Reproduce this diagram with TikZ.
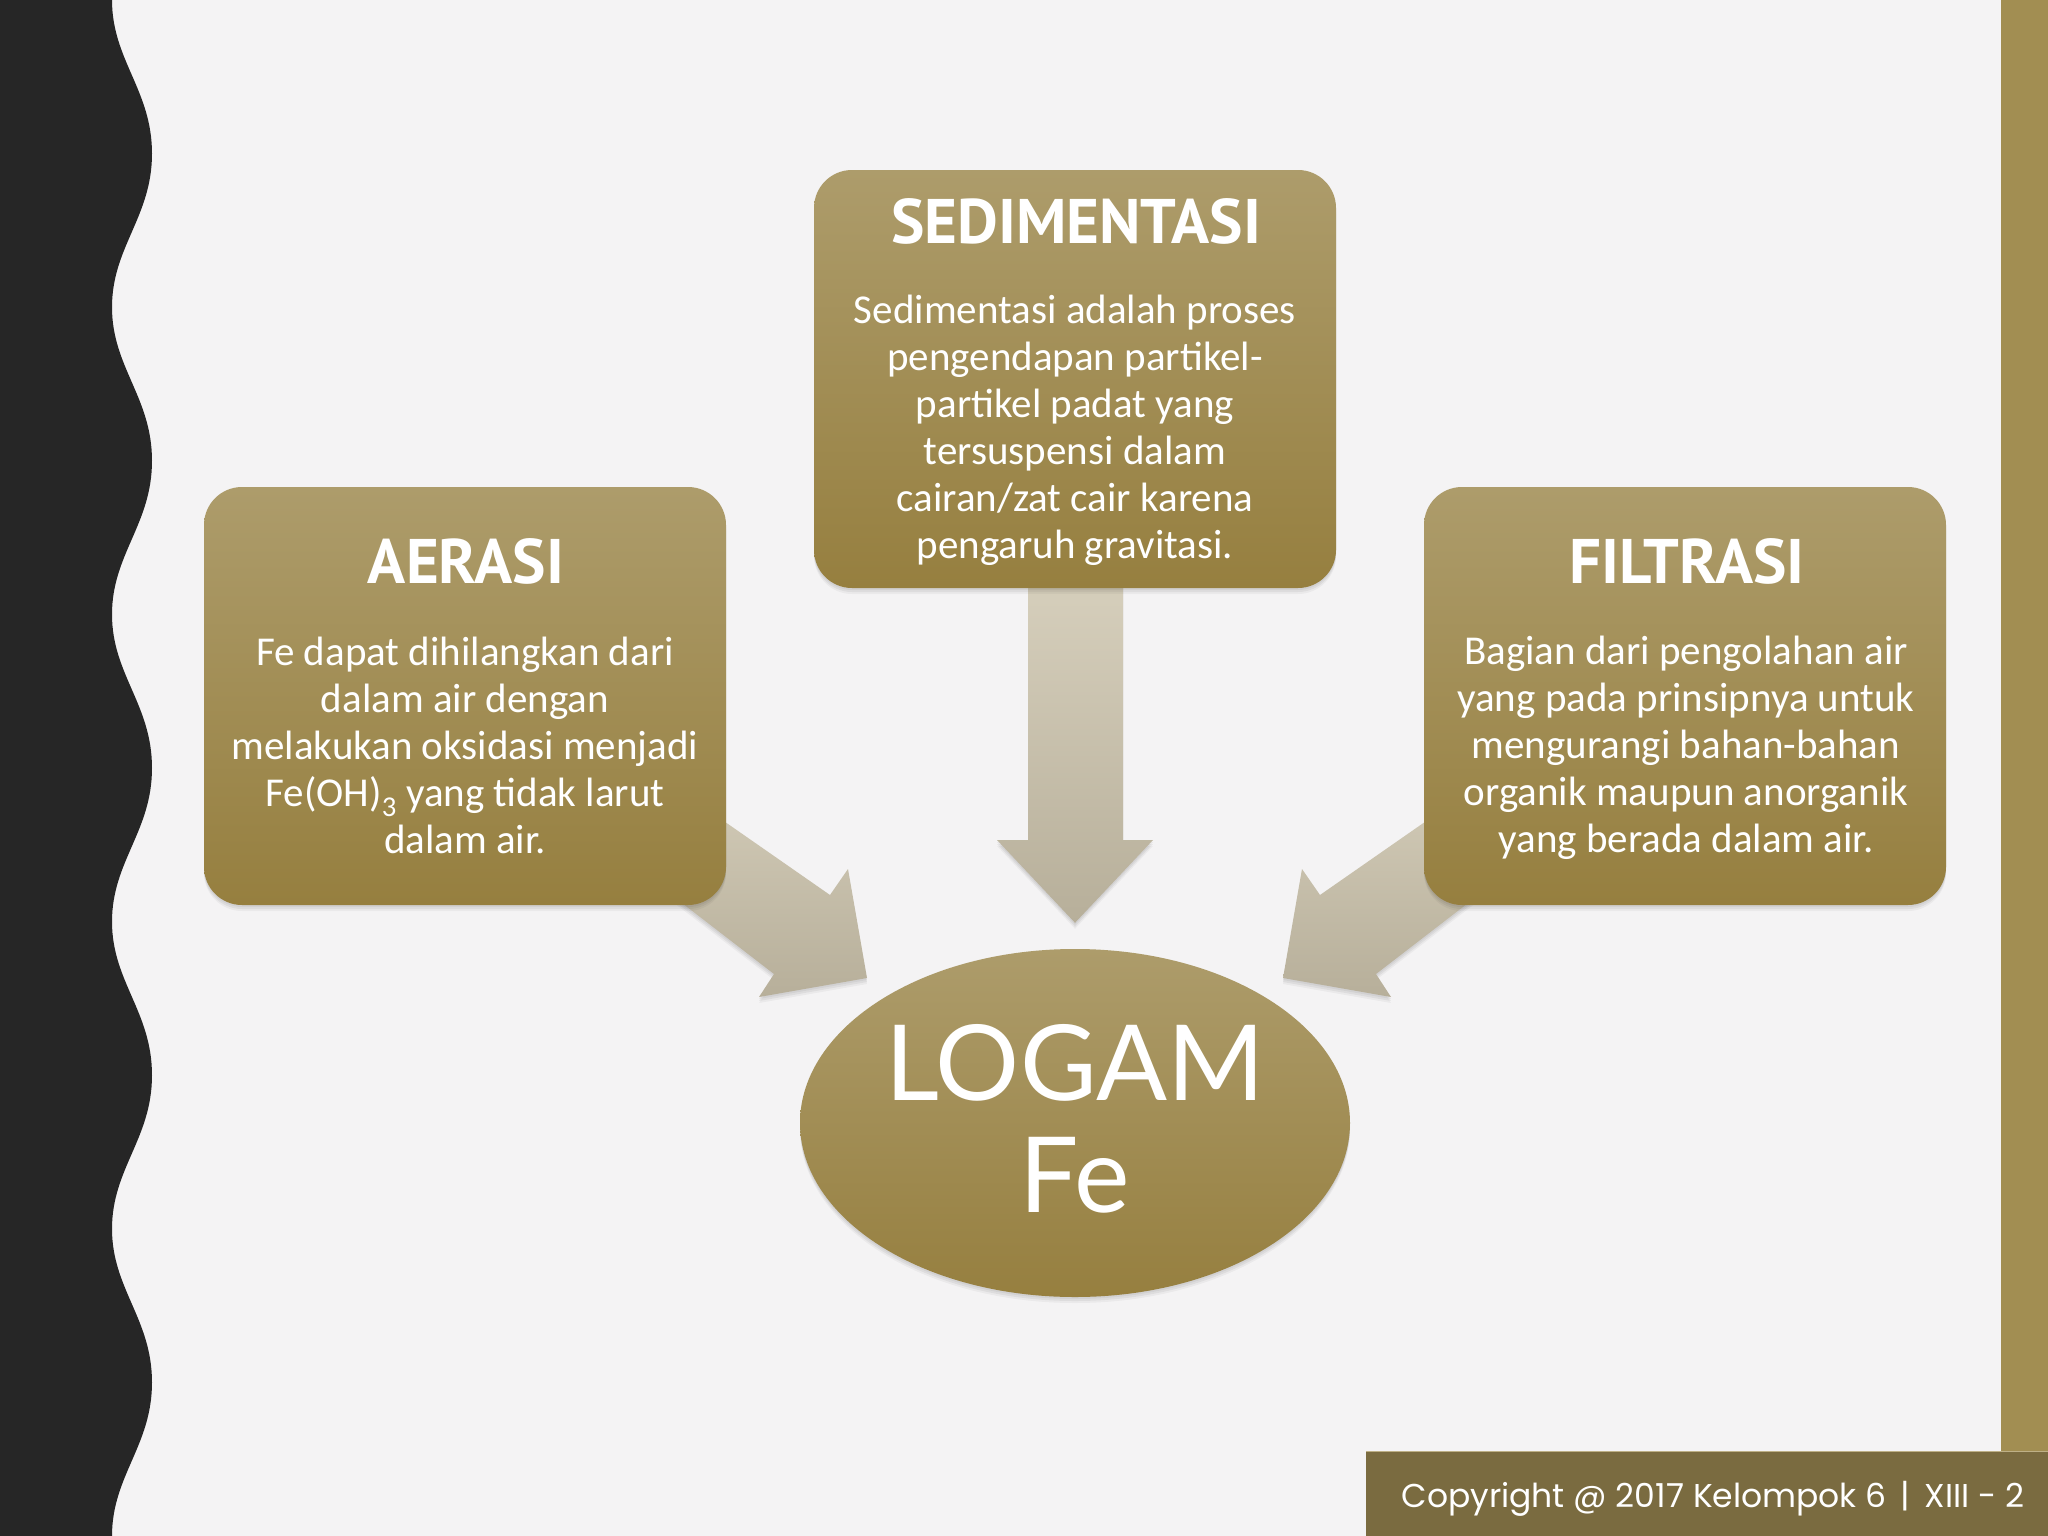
\documentclass[tikz,border=0pt]{standalone}
\usepackage{fontspec}
\setmainfont{Carlito}
\newfontfamily\titlefont{PT Sans}
\newfontfamily\bigfont{Lato}
\newfontfamily\footfont{Poppins}
\usetikzlibrary{calc,shapes.geometric}
\definecolor{bgc}{HTML}{F4F3F4}
\definecolor{darkc}{HTML}{262626}
\definecolor{goldt}{HTML}{AD9C6B}
\definecolor{goldm}{HTML}{A28D4E}
\definecolor{goldb}{HTML}{967F3F}
\definecolor{stripc}{HTML}{A28E52}
\definecolor{footc}{HTML}{7A6B40}
\definecolor{arrt}{HTML}{D6CFBC}
\definecolor{arrb}{HTML}{B7AF9A}
\tikzset{
  softshadow/.style={
    preaction={fill=black,opacity=.05,transform canvas={yshift=-2pt}},
    preaction={fill=black,opacity=.05,transform canvas={yshift=-4pt}},
    preaction={fill=black,opacity=.04,transform canvas={yshift=-6pt}}},
  goldfill/.style={top color=goldt,middle color=goldm,bottom color=goldb,softshadow},
  procbox/.style={goldfill,rounded corners=38pt,minimum width=522pt,minimum height=418pt,inner sep=0pt},
  blockarrow/.style={top color=arrt,bottom color=arrb,softshadow},
  boxtitle/.style={text=white,font=\titlefont\bfseries\fontsize{63}{63}\selectfont},
  boxbody/.style={text=white,align=center,font=\fontsize{41}{47}\selectfont,inner sep=0pt}
}
\begin{document}
\begin{tikzpicture}[x=1pt,y=-1pt]
\useasboundingbox (0,0) rectangle (2048,1536);
\fill[bgc] (0,0) rectangle (2048,1536);
% wavy left band
\fill[darkc] (0,0) -- (112,0)
 \foreach \k in {0,1,2,3,4}{
  .. controls (112,{\k*307.2+60}) and (152,{\k*307.2+90}) .. (152,{\k*307.2+153.6})
  .. controls (152,{\k*307.2+217}) and (112,{\k*307.2+247}) .. (112,{\k*307.2+307.2})
 } -- (0,1536) -- cycle;
% right strip and footer
\fill[stripc] (2001,0) rectangle (2048,1452);
\node[fill=footc,minimum width=682pt,minimum height=85pt,inner sep=0pt,anchor=north west] (foot) at (1366,1451) {};
\draw[stripc!70!white,line width=1pt] (foot.north west) -- (foot.north east);
\node[text=white,font=\footfont\fontsize{33}{33}\selectfont,inner sep=0pt,anchor=base] (foottext) at (1713,1507) {Copyright @ 2017 Kelompok 6 \,|\, XIII - 2};
% boxes (positions first, drawn after arrows)
\path (1075,379) node[minimum width=522pt,minimum height=418pt,inner sep=0pt] (sedpos) {}
      (465,696) node[minimum width=522pt,minimum height=418pt,inner sep=0pt] (aerpos) {}
      (1685,696) node[minimum width=522pt,minimum height=418pt,inner sep=0pt] (filpos) {}
      (1075,1123) node[ellipse,minimum width=550pt,minimum height=348pt,inner sep=0pt] (logampos) {};
% block arrows
\path[blockarrow]
  ($(sedpos.south)+(-47,-10)$) -- ($(sedpos.south)+(48,-10)$) -- (1123,840) -- (1153,840)
  -- ($(logampos.north)+(0,-26)$) -- (997,840) -- (1028,840) -- cycle;
\path[blockarrow]
  ($(aerpos.east)+(-103,55)$) -- (830,895) -- (848,869) -- ($(logampos.center)+(-208,-145)$)
  -- (759,997) -- (774,974) -- ($(aerpos.south east)+(-118,-59)$) -- cycle;
\path[blockarrow]
  ($(filpos.west)+(103,55)$) -- (1320,895) -- (1302,869) -- ($(logampos.center)+(208,-145)$)
  -- (1391,997) -- (1376,974) -- ($(filpos.south west)+(118,-59)$) -- cycle;
% boxes
\node[procbox] (sed) at (sedpos) {};
\node[procbox] (aer) at (aerpos) {};
\node[procbox] (fil) at (filpos) {};
\node[goldfill,ellipse,minimum width=550pt,minimum height=348pt,inner sep=0pt] (logam) at (logampos) {};
% texts
\node[boxtitle] (sedt) at (1076,221) {SEDIMENTASI};
\node[boxbody] (sedb) at (1075,430) {Sedimentasi adalah proses\\pengendapan partikel-\\partikel padat yang\\tersuspensi dalam\\cairan/zat cair karena\\pengaruh gravitasi.};
\node[boxtitle] (aert) at (466,561) {AERASI};
\node[boxbody] (aerb) at (465,745) {Fe dapat dihilangkan dari\\dalam air dengan\\melakukan oksidasi menjadi\\Fe(OH)\textsubscript{3} yang tidak larut\\dalam air.};
\node[boxtitle] (filt) at (1687,561) {FILTRASI};
\node[boxbody] (filb) at (1686,748) {Bagian dari pengolahan air\\yang pada prinsipnya untuk\\mengurangi bahan-bahan\\organik maupun anorganik\\yang berada dalam air.};
\node[text=white,align=center,inner sep=0pt,font=\bigfont\fontsize{105}{112}\selectfont] (logamt) at (1075,1119) {LOGAM\\Fe};
\end{tikzpicture}
\end{document}
